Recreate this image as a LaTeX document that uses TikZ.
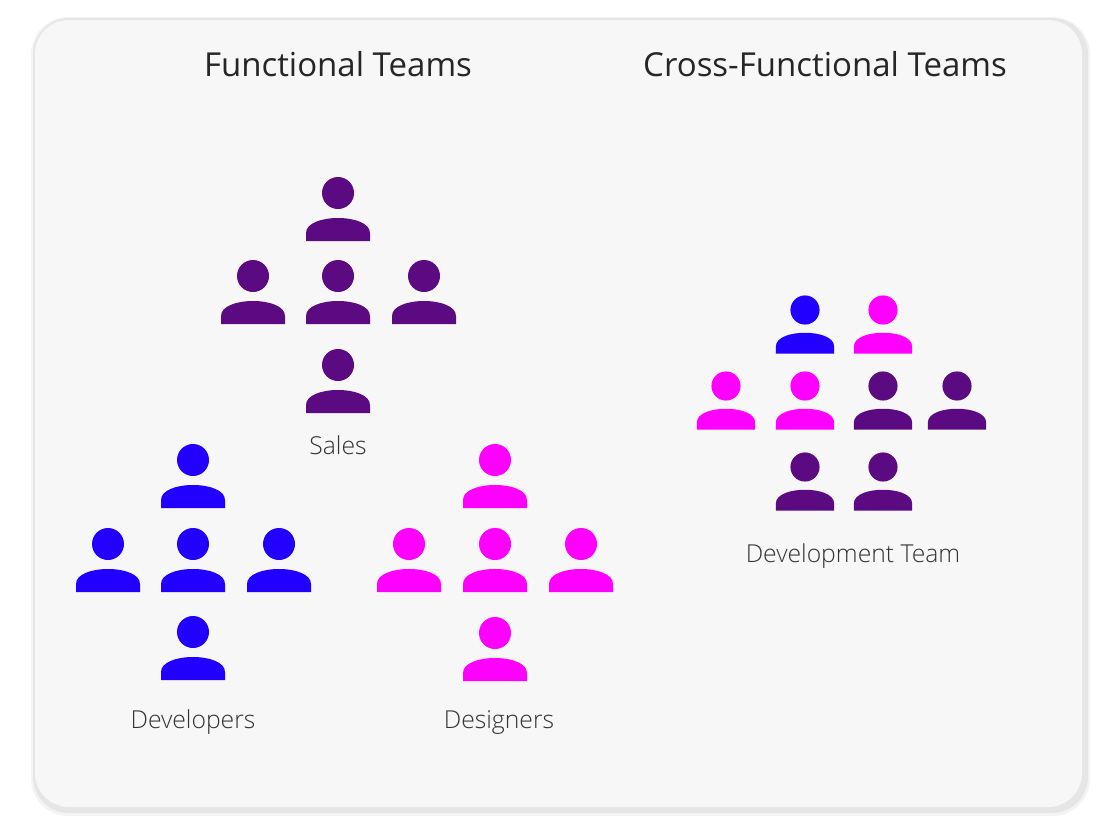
\documentclass[tikz,border=0pt]{standalone}
\usepackage{fontspec}
\setmainfont{Open Sans}
\newfontfamily\lightfont{Open Sans Light}
\usetikzlibrary{positioning}

\definecolor{teampurple}{HTML}{5C0A82}
\definecolor{teamblue}{HTML}{2200FF}
\definecolor{teampink}{HTML}{FF00FF}
\definecolor{panelfill}{HTML}{F7F7F8}
\definecolor{panelshadow}{HTML}{E6E6E6}

\begin{document}
\begin{tikzpicture}[
		x=1pt, y=-1pt,
		title/.style={font=\fontsize{33}{38}\selectfont, text=black!85, inner sep=0pt},
		teamlabel/.style={font=\lightfont\fontsize{24.7}{28}\selectfont, text=black!80, inner sep=0pt, anchor=base},
		person/.pic={
			\fill[pic actions] (0,0) circle (16);
			\fill[pic actions] (-32,48) -- (-32,40)
				.. controls (-32,30) and (-16,25) .. (0,25)
				.. controls (16,25) and (32,30) .. (32,40) -- (32,48) -- cycle;
		},
	]
	\useasboundingbox (0,0) rectangle (1117,820);

	% -- panel --

	\fill[panelshadow!45, rounded corners=37pt] (31,17) rectangle (1090,816);
	\fill[panelshadow, rounded corners=36pt] (33,18) rectangle (1088,813);
	\fill[panelfill, rounded corners=34pt] (35,20) rectangle (1082,807);

	% -- titles --

	\node [title] (functional) at (338,64) {Functional Teams};
	\node [title] (cross) at (825,64) {Cross-Functional Teams};

	% -- functional teams --

	\foreach \x/\y in {338/193, 253/276, 338/276, 424/276, 338/365}
		\pic [fill=teampurple] at (\x,\y) {person};
	\foreach \x/\y in {193/460, 108/544, 193/544, 279/544, 193/632}
		\pic [fill=teamblue] at (\x,\y) {person};
	\foreach \x/\y in {495/460, 409/544, 495/544, 581/544, 495/633}
		\pic [fill=teampink] at (\x,\y) {person};

	\node [teamlabel] (sales) at (338,454) {Sales};
	\node [teamlabel] (developers) at (193,728) {Developers};
	\node [teamlabel] (designers) at (499,728) {Designers};

	% -- cross-functional team --

	\foreach \x/\y/\c in {805/310/teamblue, 883/310/teampink,
			726/386/teampink, 805/386/teampink, 883/386/teampurple, 957/386/teampurple,
			805/467/teampurple, 883/467/teampurple}
		\pic [fill=\c, scale=.91] at (\x,\y) {person};

	\node [teamlabel] (devteam) at (853,562) {Development Team};
\end{tikzpicture}
\end{document}
